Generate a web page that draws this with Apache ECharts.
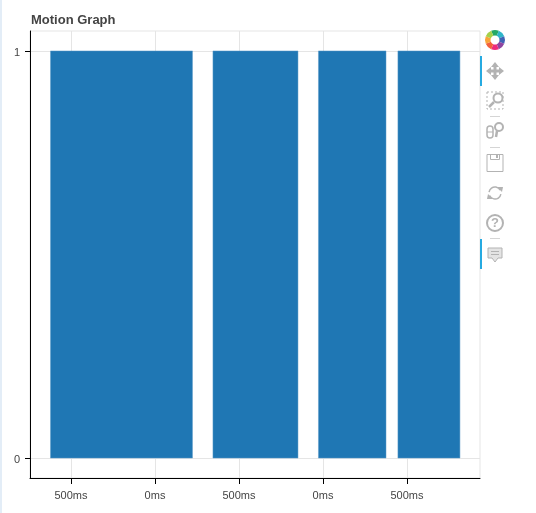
<!DOCTYPE html>
<html>
<head>
<meta charset="utf-8">
<title>Motion Graph</title>
<script src="https://cdn.jsdelivr.net/npm/echarts@6/dist/echarts.min.js"></script>
<style>
  html, body { margin: 0; padding: 0; background: #fff; }
  #strip { position: absolute; left: 0; top: 0; width: 2px; height: 513px; background: #e3edf7; }
  #chart { position: absolute; left: 0; top: 0; width: 536px; height: 513px; }
</style>
</head>
<body>
<div id="strip"></div>
<div id="chart"></div>
<script>
// motion intervals, in ms
const motionStart = [378, 1345, 1973, 2446];
const motionEnd = [1223, 1851, 2375, 2815];
const motionLow = [0, 0, 0, 0];
const motionHigh = [1, 1, 1, 1];
const xTicks = [500, 1000, 1500, 2000, 2500];
const yTicks = [0, 1];

const logoColors = ['#25a866', '#2fb5c9', '#3f63b5', '#8e44a0', '#ee2a7b', '#f2603c', '#f9a43a', '#a6d04a'];
const iconGrey = '#b3b3b3';

const chart = echarts.init(document.getElementById('chart'));
const fontFamily = '"Liberation Sans", Arial, sans-serif';

// bokeh toolbar, plain shapes
let toolbar = [];
logoColors.forEach((c, i) => {
  toolbar.push({
    type: 'sector',
    shape: {
      cx: 495, cy: 40, r: 10, r0: 4.5,
      startAngle: -Math.PI / 2 + i * Math.PI / 4 - Math.PI / 8,
      endAngle: -Math.PI / 2 + (i + 1) * Math.PI / 4 - Math.PI / 8
    },
    style: { fill: c }
  });
});
function grey(type, shape, width) {
  return { type: type, shape: shape, style: { fill: 'none', stroke: iconGrey, lineWidth: width || 2 } };
}
function greyFill(points) {
  return { type: 'polygon', shape: { points: points }, style: { fill: iconGrey } };
}
toolbar.push(
  // active markers + separators
  { type: 'rect', shape: { x: 480, y: 56, width: 2, height: 30 }, style: { fill: '#26aae1' } },
  { type: 'rect', shape: { x: 480, y: 239, width: 2, height: 30 }, style: { fill: '#26aae1' } },
  { type: 'rect', shape: { x: 490, y: 116, width: 10, height: 1 }, style: { fill: '#d5d5d5' } },
  { type: 'rect', shape: { x: 490, y: 147, width: 10, height: 1 }, style: { fill: '#d5d5d5' } },
  { type: 'rect', shape: { x: 490, y: 238, width: 10, height: 1 }, style: { fill: '#d5d5d5' } },
  // move
  grey('line', { x1: 495, y1: 65, x2: 495, y2: 77 }, 3),
  grey('line', { x1: 489, y1: 71, x2: 501, y2: 71 }, 3),
  greyFill([[495, 62], [491, 67], [499, 67]]),
  greyFill([[495, 80], [491, 75], [499, 75]]),
  greyFill([[486, 71], [491, 67], [491, 75]]),
  greyFill([[504, 71], [499, 67], [499, 75]]),
  // box zoom
  { type: 'rect', shape: { x: 487, y: 92, width: 16, height: 17 }, style: { fill: 'none', stroke: iconGrey, lineWidth: 1, lineDash: [2, 2] } },
  grey('circle', { cx: 498, cy: 98, r: 4.5 }, 2),
  grey('line', { x1: 494, y1: 102, x2: 489, y2: 107 }, 2.5),
  // wheel zoom
  grey('circle', { cx: 499, cy: 127, r: 4 }, 2),
  grey('line', { x1: 497, y1: 131, x2: 496, y2: 137 }, 2.5),
  { type: 'rect', shape: { x: 487, y: 126, width: 6, height: 12, r: 3 }, style: { fill: 'none', stroke: iconGrey, lineWidth: 1.5 } },
  grey('line', { x1: 487, y1: 132, x2: 493, y2: 132 }, 1),
  // save
  { type: 'rect', shape: { x: 487, y: 154.5, width: 16, height: 17 }, style: { fill: 'none', stroke: iconGrey, lineWidth: 1 } },
  { type: 'rect', shape: { x: 490.5, y: 154.5, width: 9, height: 5 }, style: { fill: 'none', stroke: iconGrey, lineWidth: 1 } },
  { type: 'rect', shape: { x: 496, y: 155, width: 2, height: 3 }, style: { fill: iconGrey } },
  // reset
  grey('arc', { cx: 495, cy: 193, r: 6, startAngle: 0.2, endAngle: 2.7 }, 1.5),
  grey('arc', { cx: 495, cy: 193, r: 6, startAngle: 3.3, endAngle: 5.8 }, 1.5),
  greyFill([[497, 187], [503, 187], [502, 192]]),
  greyFill([[493, 199], [487, 199], [488, 194]]),
  // help
  grey('circle', { cx: 495, cy: 223, r: 8 }, 2),
  { type: 'text', x: 495, y: 223, style: { text: '?', fill: iconGrey, font: 'bold 13px ' + fontFamily, align: 'center', verticalAlign: 'middle' } },
  // hover
  { type: 'polygon', shape: { points: [[488, 248], [502, 248], [502, 258], [498, 258], [495, 262], [492, 258], [488, 258]] }, style: { fill: '#e4e4e4', stroke: iconGrey, lineWidth: 1 } },
  { type: 'rect', shape: { x: 491, y: 251, width: 8, height: 1 }, style: { fill: iconGrey } },
  { type: 'rect', shape: { x: 491, y: 254, width: 8, height: 1 }, style: { fill: iconGrey } }
);

let option = {
  animation: false,
  backgroundColor: 'transparent',
  title: {
    text: 'Motion Graph',
    left: 26,
    top: 9,
    textStyle: { fontSize: 13, fontWeight: 'bold', color: '#444', fontFamily: fontFamily }
  },
  grid: { left: 30, right: 56, top: 31, bottom: 35, show: true, borderColor: '#e5e5e5', borderWidth: 1, backgroundColor: '#fff' },
  xAxis: {
    type: 'value',
    min: 256,
    max: 2934.5,
    axisLine: { onZero: false, lineStyle: { color: '#000', width: 1 } },
    axisTick: { customValues: xTicks, length: 6, lineStyle: { color: '#000' } },
    axisLabel: {
      customValues: xTicks,
      margin: 12,
      fontSize: 11,
      color: '#444',
      fontFamily: fontFamily,
      formatter: v => (v % 1000) + 'ms'
    },
    splitLine: { show: true, lineStyle: { color: '#e5e5e5', width: 1 } }
  },
  yAxis: {
    type: 'value',
    min: -0.049,
    max: 1.049,
    axisLine: { show: true, onZero: false, lineStyle: { color: '#000', width: 1 } },
    axisTick: { show: true, customValues: yTicks, length: 5, lineStyle: { color: '#000' } },
    axisLabel: {
      customValues: yTicks,
      margin: 10,
      verticalAlign: 'top',
      lineHeight: 4,
      fontSize: 11,
      color: '#444',
      fontFamily: fontFamily
    },
    splitLine: { show: true, lineStyle: { color: '#e5e5e5', width: 1 } }
  },
  series: [{
    type: 'custom',
    clip: true,
    encode: { x: [0, 1], y: [2, 3] },
    data: motionStart.map((s, i) => [s, motionEnd[i], motionLow[i], motionHigh[i]]),
    renderItem: (params, api) => {
      const p0 = api.coord([api.value(0), api.value(3)]);
      const p1 = api.coord([api.value(1), api.value(2)]);
      return {
        type: 'rect',
        shape: { x: p0[0], y: p0[1], width: p1[0] - p0[0], height: p1[1] - p0[1] },
        style: { fill: '#1f77b4', stroke: '#5a9bc9', lineWidth: 0.5 }
      };
    }
  }],
  graphic: toolbar
};
chart.setOption(option);
</script>
</body>
</html>
